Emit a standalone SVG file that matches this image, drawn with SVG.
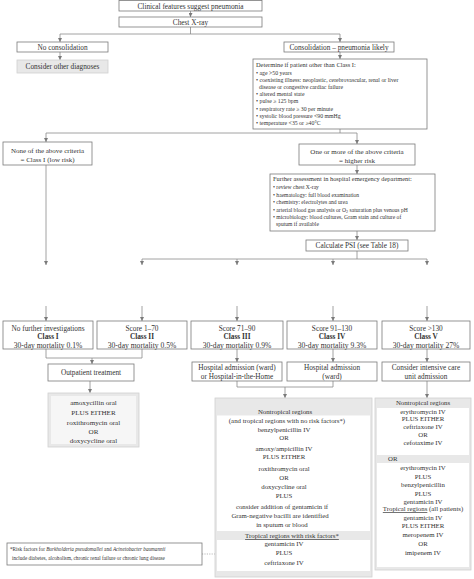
<svg xmlns="http://www.w3.org/2000/svg" width="474" height="579" viewBox="0 0 474 579">
<defs>
<marker id="ah" viewBox="0 0 6 6" refX="6" refY="3" markerWidth="4" markerHeight="4" markerUnits="userSpaceOnUse" orient="auto"><path d="M0,0 L6,3 L0,6 z" fill="#7a7a7a"/></marker>
<style>
.b{fill:#fff;stroke:#7a7a7a;stroke-width:0.8}
.g{fill:#e8e8e8;stroke:#d0d0d0;stroke-width:0.8}
.w{fill:#fff;stroke:none}
.t{font-family:"Liberation Serif","Times New Roman",serif;fill:#333;text-anchor:middle}
.l{text-anchor:start}
.c{fill:none;stroke:#8a8a8a;stroke-width:0.8}
.a{fill:none;stroke:#8a8a8a;stroke-width:0.8;marker-end:url(#ah)}
.s7{font-size:7.3px}
.s76{font-size:7.6px}
.s6{font-size:5.8px}
.s5{font-size:5.2px}
.s68{font-size:6.8px}
.bd{font-weight:bold}
.u{text-decoration:underline}
</style>
</defs>
<g id="connectors">
<path class="a" d="M190.5,11 V17"/>
<path class="c" d="M190.5,27 V34 M60,34 H340"/>
<path class="a" d="M60,34 V42"/>
<path class="a" d="M340,34 V42"/>
<path class="a" d="M60,52 V60"/>
<path class="a" d="M340,52 V59"/>
<path class="c" d="M340,129 V133 M46,133 H357"/>
<path class="a" d="M46,133 V142"/>
<path class="a" d="M357,133 V144"/>
<path class="a" d="M357,165 V174"/>
<path class="a" d="M357,231 V240"/>
<path class="c" d="M357,251 V259 M142,259 H427"/>
<path class="a" d="M46,165 V265"/>
<path class="a" d="M142,259 V265"/>
<path class="a" d="M237,259 V265"/>
<path class="a" d="M333,259 V265"/>
<path class="a" d="M427,259 V265"/>
<path class="a" d="M46,306 V321"/>
<path class="a" d="M142,306 V321"/>
<path class="a" d="M237,306 V321"/>
<path class="a" d="M333,306 V321"/>
<path class="a" d="M427,306 V321"/>
<path class="c" d="M46,349 V358 H142 V349"/>
<path class="a" d="M92,358 V364"/>
<path class="a" d="M237,349 V362"/>
<path class="a" d="M333,349 V362"/>
<path class="a" d="M427,349 V362"/>
<path class="c" d="M237,381 V387 H333 V381"/>
<path class="a" d="M285,387 V398"/>
<path class="a" d="M427,381 V398"/>
<path class="a" d="M90,381 V393"/>
<path d="M202,554 H215" fill="none" stroke="#999" stroke-width="0.7" stroke-dasharray="1.2,1.2"/>
</g>
<g id="n-clinical"><rect class="b" x="119" y="0.5" width="143" height="10.5"/><text class="t s7" x="190.5" y="8.6">Clinical features suggest pneumonia</text></g>
<g id="n-xray"><rect class="b" x="119" y="17" width="143" height="10"/><text class="t s7" x="190.5" y="24.6">Chest X-ray</text></g>
<g id="n-nocons"><rect class="b" x="17" y="42" width="91" height="10"/><text class="t s7" x="62.5" y="49.6">No consolidation</text></g>
<g id="n-other"><rect class="g" x="17" y="60" width="91" height="13"/><text class="t s7" x="62.5" y="69">Consider other diagnoses</text></g>
<g id="n-cons"><rect class="b" x="284" y="42" width="110" height="10"/><text class="t s7" x="339" y="49.6">Consolidation – pneumonia likely</text></g>
<g id="n-determine"><rect class="b" x="253" y="59" width="174" height="70"/>
<text class="t l" x="256" y="67.2" font-size="6.4">Determine if patient other than Class I:</text>
<g class="t l s6">
<text x="256" y="75">• age &gt;50 years</text>
<text x="256" y="82">• coexisting illness: neoplastic, cerebrovascular, renal or liver</text>
<text x="259" y="89">disease or congestive cardiac failure</text>
<text x="256" y="96">• altered mental state</text>
<text x="256" y="103">• pulse ≥ 125 bpm</text>
<text x="256" y="110.5">• respiratory rate ≥ 30 per minute</text>
<text x="256" y="118">• systolic blood pressure &lt;90 mmHg</text>
<text x="256" y="125">• temperature &lt;35 or ≥40°C</text>
</g></g>
<g id="n-none"><rect class="b" x="3" y="142" width="89" height="23"/><text class="t" font-size="7" x="47.5" y="152.5">None of the above criteria</text><text class="t" font-size="7" x="47.5" y="161.5">= Class I (low risk)</text></g>
<g id="n-higher"><rect class="b" x="299" y="144" width="116" height="21"/><text class="t" font-size="7" x="357" y="154">One or more of the above criteria</text><text class="t" font-size="7" x="357" y="163">= higher risk</text></g>
<g id="n-further"><rect class="b" x="270" y="174" width="165" height="57"/>
<text class="t l" x="273" y="181.2" font-size="6.4">Further assessment in hospital emergency department:</text>
<g class="t l" font-size="5.6">
<text x="273" y="188.5">• review chest X-ray</text>
<text x="273" y="197">• haematology: full blood examination</text>
<text x="273" y="204">• chemistry: electrolytes and urea</text>
<text x="273" y="211.5">• arterial blood gas analysis or O<tspan font-size="4" dy="1">2</tspan><tspan dy="-1"> saturation plus venous pH</tspan></text>
<text x="273" y="219">• microbiology: blood cultures, Gram stain and culture of</text>
<text x="276" y="226">sputum if available</text>
</g></g>
<g id="n-psi"><rect class="b" x="306" y="240" width="102" height="11"/><text class="t s7" x="357" y="248.2">Calculate PSI (see Table 18)</text></g>
<g id="n-class1"><rect class="b" x="3" y="321" width="90" height="28"/><text class="t s7" x="48" y="330.5">No further investigations</text><text class="t s7 bd" x="48" y="339.3">Class I</text><text class="t s76" x="48" y="347.5">30-day mortality 0.1%</text></g>
<g id="n-class2"><rect class="b" x="97" y="321" width="90" height="28"/><text class="t s7" x="142" y="330.5">Score 1–70</text><text class="t s7 bd" x="142" y="339.3">Class II</text><text class="t s76" x="142" y="347.5">30-day mortality 0.5%</text></g>
<g id="n-class3"><rect class="b" x="191" y="321" width="92" height="28"/><text class="t s7" x="237" y="330.5">Score 71–90</text><text class="t s7 bd" x="237" y="339.3">Class III</text><text class="t s76" x="237" y="347.5">30-day mortality 0.9%</text></g>
<g id="n-class4"><rect class="b" x="287" y="321" width="90" height="28"/><text class="t s7" x="332" y="330.5">Score 91–130</text><text class="t s7 bd" x="332" y="339.3">Class IV</text><text class="t s76" x="332" y="347.5">30-day mortality 9.3%</text></g>
<g id="n-class5"><rect class="b" x="382" y="321" width="88" height="28"/><text class="t s7" x="426" y="330.5">Score &gt;130</text><text class="t s7 bd" x="426" y="339.3">Class V</text><text class="t s76" x="426" y="347.5">30-day mortality 27%</text></g>
<g id="n-outpatient"><rect class="b" x="48" y="364" width="86" height="17"/><text class="t s7" x="91" y="375">Outpatient treatment</text></g>
<g id="n-hosp3"><rect class="b" x="192" y="362" width="90" height="19"/><text class="t s7" x="237" y="370">Hospital admission (ward)</text><text class="t s7" x="237" y="379">or Hospital-in-the-Home</text></g>
<g id="n-hosp4"><rect class="b" x="287" y="362" width="90" height="19"/><text class="t s7" x="332" y="370">Hospital admission</text><text class="t s7" x="332" y="379">(ward)</text></g>
<g id="n-icu"><rect class="b" x="382" y="362" width="88" height="19"/><text class="t s7" x="426" y="370">Consider intensive care</text><text class="t s7" x="426" y="379">unit admission</text></g>
<g id="n-oral"><rect class="g" x="48" y="393" width="91" height="54"/><rect class="w" x="51" y="396" width="85" height="48" fill-opacity="0.6"/>
<g class="t" font-size="7.1"><text x="93.5" y="405.3">amoxycillin oral</text><text x="93.5" y="415.3">PLUS EITHER</text><text x="93.5" y="425.3">roxithromycin oral</text><text x="93.5" y="434.3">OR</text><text x="93.5" y="443.3">doxycycline oral</text></g></g>
<g id="n-ward"><rect class="g" x="215" y="398" width="157" height="179"/><rect class="w" x="217" y="415.5" width="153" height="115.5"/><rect class="w" x="217" y="540" width="153" height="31"/>
<g class="t s68">
<text x="285" y="414.3">Nontropical regions</text>
<text x="287" y="423.3">(and tropical regions with no risk factors*)</text>
<text x="284" y="432.3">benzylpenicillin IV</text>
<text x="284" y="440.3">OR</text>
<text x="284" y="451.3">amoxy/ampicillin IV</text>
<text x="284" y="459.3">PLUS EITHER</text>
<text x="284" y="471.3">roxithromycin oral</text>
<text x="284" y="480.3">OR</text>
<text x="284" y="489.3">doxycycline oral</text>
<text x="284" y="498.3">PLUS</text>
<text x="282" y="509.3">consider addition of gentamicin if</text>
<text x="280" y="518.3">Gram-negative bacilli are identified</text>
<text x="282" y="527.3">in sputum or blood</text>
<text x="292" y="538.3" class="u">Tropical regions with risk factors*</text>
<text x="284" y="546.3">gentamicin IV</text>
<text x="284" y="555.3">PLUS</text>
<text x="284" y="565.3">ceftriaxone IV</text>
</g></g>
<g id="n-icu-tx"><rect class="g" x="375" y="398" width="96" height="172"/><rect class="w" x="377" y="408" width="92" height="47"/><rect class="w" x="377" y="463" width="92" height="104"/>
<g class="t s68">
<text x="423" y="405.3">Nontropical regions</text>
<text x="423" y="414.3">erythromycin IV</text>
<text x="423" y="421.3">PLUS EITHER</text>
<text x="423" y="429.3">ceftriaxone IV</text>
<text x="423" y="437.3">OR</text>
<text x="423" y="445.3">cefotaxime IV</text>
<text x="388" y="461.3" class="l">OR</text>
<text x="423" y="470.3">erythromycin IV</text>
<text x="423" y="479.3">PLUS</text>
<text x="423" y="487.3">benzylpenicillin</text>
<text x="423" y="496.3">PLUS</text>
<text x="423" y="504.3">gentamicin IV</text>
<text x="423" y="511.3"><tspan class="u">Tropical regions</tspan> (all patients)</text>
<text x="423" y="520.3">gentamicin IV</text>
<text x="423" y="528.3">PLUS EITHER</text>
<text x="423" y="537.3">meropenem IV</text>
<text x="423" y="546.3">OR</text>
<text x="423" y="555.3">imipenem IV</text>
</g></g>
<g id="n-footnote"><rect class="b" x="7" y="543" width="195" height="22" stroke="#999"/>
<g class="t l s5"><text x="10" y="551">*Risk factors for <tspan font-style="italic">Burkholderia pseudomallei</tspan> and <tspan font-style="italic">Acinetobacter baumannii</tspan></text>
<text x="12" y="560">include diabetes, alcoholism, chronic renal failure or chronic lung disease</text></g></g>
</svg>
